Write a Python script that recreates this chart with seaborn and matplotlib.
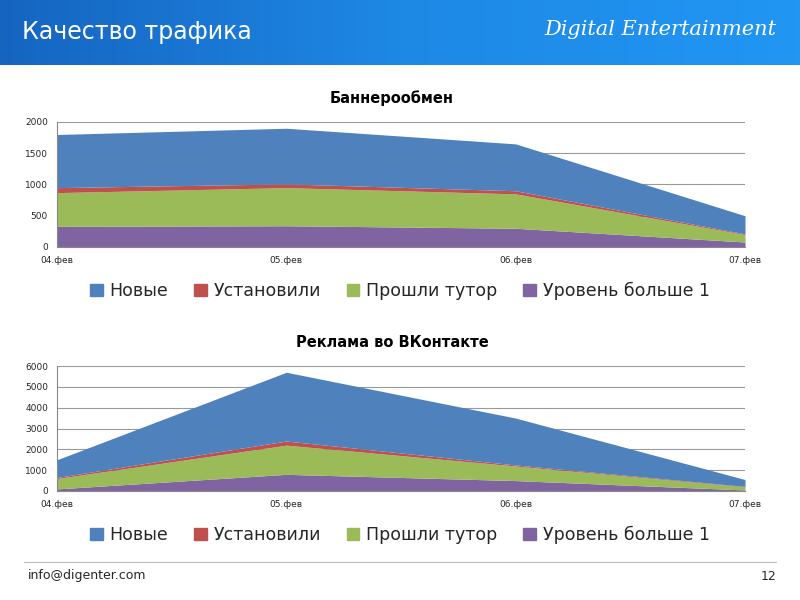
import matplotlib
matplotlib.use("Agg")
import matplotlib.pyplot as plt
import seaborn as sns
import numpy as np
from matplotlib.patches import Rectangle

sns.set_style("white")
plt.rcParams['font.family'] = ['DejaVu Sans']

dates = ["04.фев", "05.фев", "06.фев", "07.фев"]
series_names = ["Уровень больше 1", "Прошли тутор", "Установили", "Новые"]
colors = ["#8064A2", "#9BBB59", "#C0504D", "#4F81BD"]

# Баннерообмен
banner_level = [330, 340, 300, 80]
banner_tutor = [540, 610, 550, 120]
banner_installed = [80, 60, 50, 10]
banner_new = [850, 890, 750, 290]

# Реклама во ВКонтакте
vk_level = [100, 800, 500, 50]
vk_tutor = [500, 1400, 700, 150]
vk_installed = [50, 200, 50, 20]
vk_new = [850, 3300, 2250, 330]

fig = plt.figure(figsize=(8, 6), dpi=100)

# header band
hdr = fig.add_axes([0, 1 - 65/600, 1, 65/600])
grad = np.linspace(0, 1, 256).reshape(1, -1)
hdr.imshow(grad, aspect="auto", cmap=matplotlib.colors.LinearSegmentedColormap.from_list(
    "h", ["#1565C0", "#1E88E5", "#2196F3"]), extent=[0, 1, 0, 1])
hdr.set_xlim(0, 1); hdr.set_ylim(0, 1); hdr.axis("off")
hdr.text(0.028, 0.5, "Качество трафика", color="white", fontsize=17, va="center")
hdr.text(0.97, 0.55, "Digital Entertainment", color="white", fontsize=15,
         va="center", ha="right", style="italic", family="DejaVu Serif")


def draw(ax, level, tutor, installed, new, ymax, step, title, title_y, legend_y):
    x = np.arange(len(dates))
    ax.stackplot(x, level, tutor, installed, new, colors=colors, linewidth=0, zorder=2)
    ax.set_xlim(0, len(dates) - 1)
    ax.set_ylim(0, ymax)
    ax.set_yticks(np.arange(0, ymax + 1, step))
    ax.set_xticks(x)
    ax.set_xticklabels(dates)
    ax.tick_params(labelsize=6.5, length=3)
    ax.yaxis.grid(True, color="#999999", linewidth=0.8, zorder=0)
    ax.set_axisbelow(True)
    for s in ["top", "right"]:
        ax.spines[s].set_visible(False)
    for s in ["left", "bottom"]:
        ax.spines[s].set_color("#888888")
    fig.text(0.49, title_y, title, ha="center", fontsize=10.5, fontweight="bold", color="black")
    handles = [Rectangle((0, 0), 1, 1, color=c) for c in reversed(colors)]
    fig.legend(handles, list(reversed(series_names)), loc="center", ncol=4,
               bbox_to_anchor=(0.5, legend_y), frameon=False, fontsize=12.5,
               handlelength=0.7, handleheight=0.7, columnspacing=1.5, handletextpad=0.4)


ax1 = fig.add_axes([57/800, 1 - 247/600, 688/800, 125/600])
draw(ax1, banner_level, banner_tutor, banner_installed, banner_new, 2000, 500,
     "Баннерообмен", 1 - 103/600, 1 - 291/600)

ax2 = fig.add_axes([57/800, 1 - 491/600, 688/800, 125/600])
draw(ax2, vk_level, vk_tutor, vk_installed, vk_new, 6000, 1000,
     "Реклама во ВКонтакте", 1 - 347/600, 1 - 535/600)

fig.add_artist(plt.Line2D([0.03, 0.97], [1 - 562/600] * 2, color="#BBBBBB", linewidth=0.8))
fig.text(0.035, 1 - 576/600, "info@digenter.com", fontsize=9, va="center")
fig.text(0.97, 1 - 576/600, "12", fontsize=9, va="center", ha="right")

fig.savefig("out.png", dpi=100)
